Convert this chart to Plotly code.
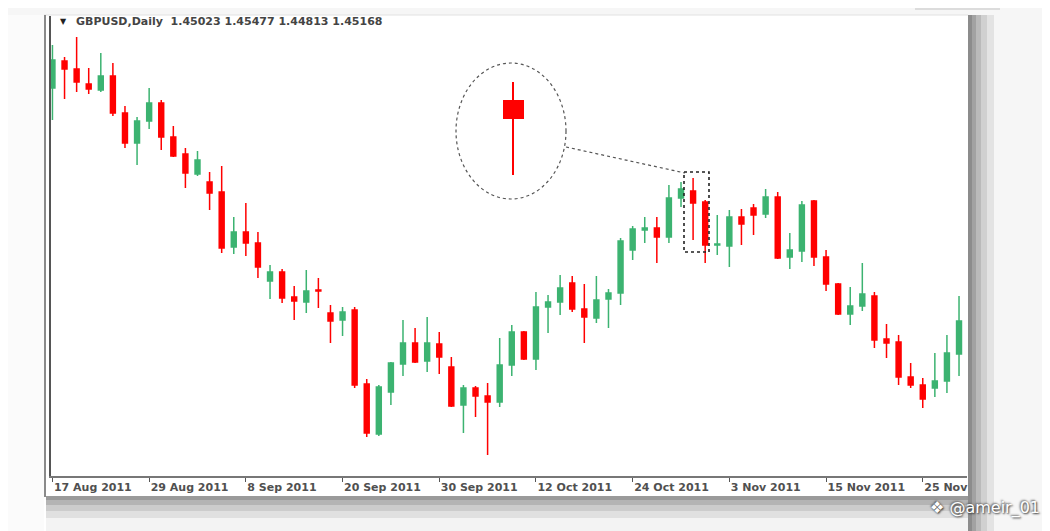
import plotly.graph_objects as go
import pandas as pd

# ---- data ----
dates = [d.strftime("%Y-%m-%d") for d in pd.bdate_range("2011-08-17", periods=76)]

opens = [1.6486, 1.6567, 1.6543, 1.6498, 1.6480, 1.6522, 1.6411, 1.6321, 1.6387, 1.6441,
         1.6339, 1.6288, 1.6228, 1.6204, 1.6174, 1.6009, 1.6054, 1.6021, 1.5907, 1.5934,
         1.5859, 1.5844, 1.5880, 1.5811, 1.5790, 1.5820, 1.5598, 1.5448, 1.5574, 1.5658,
         1.5721, 1.5667, 1.5718, 1.5649, 1.5535, 1.5586, 1.5562, 1.5544, 1.5655, 1.5754,
         1.5673, 1.5829, 1.5844, 1.5901, 1.5823, 1.5796, 1.5853, 1.5871, 1.6000, 1.6060,
         1.6066, 1.6039, 1.6156, 1.6177, 1.6144, 1.6015, 1.6012, 1.6099, 1.6126, 1.6108,
         1.6159, 1.5979, 1.5997, 1.6147, 1.5979, 1.5898, 1.5808, 1.5832, 1.5862, 1.5733,
         1.5724, 1.5619, 1.5595, 1.5586, 1.5607, 1.5688]
highs = [1.6615, 1.6579, 1.6639, 1.6546, 1.6591, 1.6561, 1.6432, 1.6399, 1.6486, 1.6450,
         1.6372, 1.6306, 1.6297, 1.6234, 1.6252, 1.6099, 1.6141, 1.6054, 1.5955, 1.5943,
         1.5892, 1.5940, 1.5916, 1.5835, 1.5829, 1.5829, 1.5613, 1.5595, 1.5664, 1.5790,
         1.5766, 1.5799, 1.5754, 1.5679, 1.5595, 1.5592, 1.5601, 1.5736, 1.5775, 1.5757,
         1.5874, 1.5865, 1.5925, 1.5922, 1.5898, 1.5922, 1.5883, 1.6036, 1.6072, 1.6099,
         1.6099, 1.6195, 1.6204, 1.6216, 1.6150, 1.6105, 1.6120, 1.6123, 1.6138, 1.6183,
         1.6174, 1.6051, 1.6147, 1.6150, 1.6000, 1.5901, 1.5889, 1.5961, 1.5874, 1.5778,
         1.5745, 1.5661, 1.5616, 1.5691, 1.5745, 1.5862]
lows = [1.6390, 1.6453, 1.6474, 1.6468, 1.6474, 1.6402, 1.6306, 1.6255, 1.6363, 1.6300,
        1.6279, 1.6186, 1.6222, 1.6120, 1.5991, 1.5988, 1.5982, 1.5916, 1.5853, 1.5841,
        1.5790, 1.5811, 1.5826, 1.5721, 1.5742, 1.5586, 1.5439, 1.5442, 1.5535, 1.5622,
        1.5661, 1.5634, 1.5628, 1.5529, 1.5451, 1.5499, 1.5385, 1.5529, 1.5622, 1.5670,
        1.5640, 1.5751, 1.5805, 1.5814, 1.5721, 1.5781, 1.5766, 1.5835, 1.5970, 1.6021,
        1.5961, 1.6021, 1.6129, 1.6030, 1.5961, 1.5985, 1.5949, 1.6015, 1.6045, 1.6096,
        1.5973, 1.5943, 1.5964, 1.5952, 1.5877, 1.5805, 1.5775, 1.5817, 1.5706, 1.5676,
        1.5595, 1.5586, 1.5526, 1.5559, 1.5571, 1.5622]
closes = [1.6570, 1.6543, 1.6504, 1.6483, 1.6522, 1.6411, 1.6321, 1.6387, 1.6441, 1.6339,
          1.6282, 1.6231, 1.6270, 1.6171, 1.6006, 1.6054, 1.6021, 1.5949, 1.5934, 1.5856,
          1.5847, 1.5877, 1.5877, 1.5787, 1.5814, 1.5595, 1.5451, 1.5589, 1.5661, 1.5721,
          1.5664, 1.5721, 1.5679, 1.5532, 1.5586, 1.5562, 1.5544, 1.5655, 1.5754, 1.5673,
          1.5829, 1.5844, 1.5886, 1.5823, 1.5799, 1.5850, 1.5871, 1.6027, 1.6063, 1.6066,
          1.6039, 1.6156, 1.6183, 1.6141, 1.6015, 1.6018, 1.6099, 1.6078, 1.6105, 1.6159,
          1.5976, 1.6000, 1.6135, 1.5979, 1.5898, 1.5808, 1.5832, 1.5868, 1.5730, 1.5721,
          1.5619, 1.5595, 1.5553, 1.5607, 1.5691, 1.5787]

tick_idx = [0, 8, 16, 24, 32, 40, 48, 56, 64, 72]
tick_labels = ["17 Aug 2011", "29 Aug 2011", "8 Sep 2011", "20 Sep 2011", "30 Sep 2011",
               "12 Oct 2011", "24 Oct 2011", "3 Nov 2011", "15 Nov 2011", "25 Nov 2011"]
header = "GBPUSD,Daily  1.45023 1.45477 1.44813 1.45168"

GREEN = "#3cb371"
RED = "#ff0000"

# ---- layout geometry ----
# the page body adds an 8px margin, so the figure is drawn 8px smaller
OFF = 8
W, H = 1050 - OFF, 531 - OFF
PLOT_X0, PLOT_X1, PLOT_Y0, PLOT_Y1 = 51, 967, 16, 476   # page pixels of the plot area
L, T = PLOT_X0 - OFF, PLOT_Y0 - OFF
R, B = W - (PLOT_X1 - OFF), H - (PLOT_Y1 - OFF)
PW, PH = PLOT_X1 - PLOT_X0, PLOT_Y1 - PLOT_Y0


def px(x):
    return (x - PLOT_X0) / PW


def py(y):
    return (PLOT_Y1 - y) / PH


fig = go.Figure()
fig.add_trace(go.Candlestick(
    x=dates, open=opens, high=highs, low=lows, close=closes,
    increasing=dict(line=dict(color=GREEN, width=1.5), fillcolor=GREEN),
    decreasing=dict(line=dict(color=RED, width=1.5), fillcolor=RED),
    whiskerwidth=0, hoverinfo="skip", showlegend=False,
))

shapes = []


def rect(x0, y0, x1, y1, color, layer="above", line_w=0, line_c=None, dash=None):
    d = dict(type="rect", xref="paper", yref="paper",
             x0=px(x0), x1=px(x1), y0=py(y0), y1=py(y1),
             fillcolor=color, layer=layer,
             line=dict(width=line_w, color=line_c or color))
    if dash:
        d["line"]["dash"] = dash
    shapes.append(d)


def line(x0, y0, x1, y1, color, width=1, dash=None, layer="above"):
    d = dict(type="line", xref="paper", yref="paper",
             x0=px(x0), x1=px(x1), y0=py(y0), y1=py(y1), layer=layer,
             line=dict(color=color, width=width))
    if dash:
        d["line"]["dash"] = dash
    shapes.append(d)


# screenshot frame decorations
rect(0, 0, 1044, 15, "#f6f6f6")
line(44, 15, 968, 15, "#e2e2e2", 1)
rect(915, 8, 1000, 10, "#dcdcdc")
# right shadow
for (a, b, c) in [(968, 972, "#8c8c8c"), (972, 976, "#a2a2a2"), (976, 981, "#bababa"),
                  (981, 987, "#d0d0d0"), (987, 994, "#e3e3e3"), (994, 1044, "#f6f6f6")]:
    rect(a, 15, b, 531, c)
# bottom shadow
for (a, b, c) in [(496, 500, "#9a9a9a"), (500, 505, "#b4b4b4"), (505, 511, "#cccccc"),
                  (511, 518, "#e0e0e0"), (518, 531, "#f3f3f3")]:
    rect(46, a, 968, b, c)
rect(0, 15, 44, 531, "#fbfbfb")
rect(1044, 0, 1050, 531, "#141414")
line(45, 15, 45, 497, "#8a8a8a", 2)

# magnifier ellipse, connector and box
shapes.append(dict(type="circle", xref="paper", yref="paper",
                   x0=px(456), x1=px(566), y0=py(199), y1=py(63),
                   line=dict(color="#555555", width=1.2, dash="dot"), layer="above"))
line(566, 147, 685, 173, "#555555", 1.2, "dot")
rect(684, 172, 709, 252, "rgba(0,0,0,0)", line_w=1.6, line_c="#222222", dash="dot")
# magnified candle
line(513, 82, 513, 175, RED, 2)
rect(503, 100, 524, 119, RED)

annotations = [
    dict(xref="paper", yref="paper", x=px(58), y=py(21), xanchor="left", yanchor="middle",
         text="▼", showarrow=False, font=dict(family="DejaVu Sans", size=8, color="#222")),
    dict(xref="paper", yref="paper", x=px(74), y=py(21), xanchor="left", yanchor="middle",
         text=header, showarrow=False,
         font=dict(family="DejaVu Sans", size=11, color="#444", weight="bold")),
    dict(xref="paper", yref="paper", x=px(1042), y=py(508), xanchor="right", yanchor="middle",
         text="❖ @ameir_01", showarrow=False,
         font=dict(family="DejaVu Sans", size=16, color="#ffffff",
                   shadow="1px 1px 2px #333, -1px -1px 2px #666")),
]

fig.update_layout(
    width=W, height=H,
    margin=dict(l=L, r=R, t=T, b=B, pad=0),
    paper_bgcolor="#ffffff", plot_bgcolor="#ffffff",
    boxgap=0.42,
    shapes=shapes, annotations=annotations,
    xaxis=dict(type="category", range=[-0.12, 75.66], rangeslider=dict(visible=False),
               tickmode="array", tickvals=[dates[i] for i in tick_idx], ticktext=tick_labels,
               ticks="outside", ticklen=4, tickwidth=1, tickcolor="#555",
               ticklabelposition="outside right",
               tickfont=dict(family="DejaVu Sans", size=11, color="#505050", weight="bold"),
               showline=True, linecolor="#777", linewidth=2,
               showgrid=False, zeroline=False, fixedrange=True),
    yaxis=dict(range=[1.5322, 1.6702], showticklabels=False, ticks="",
               showline=True, linecolor="#555", linewidth=2,
               showgrid=False, zeroline=False, fixedrange=True),
    hovermode=False,
)

fig.write_html("out.html")
